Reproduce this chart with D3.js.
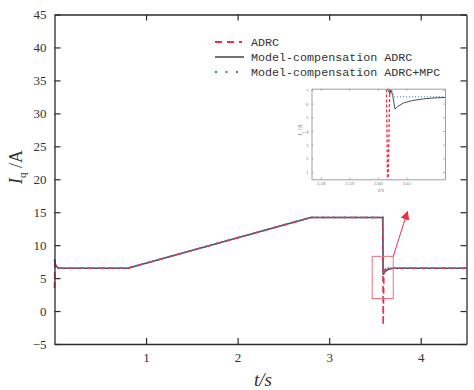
<!DOCTYPE html>
<html>
<head>
<meta charset="utf-8">
<script src="https://cdn.jsdelivr.net/npm/d3@7"></script>
<style>
  body { margin: 0; background: #fff; }
  svg { display: block; }
</style>
</head>
<body>
<svg id="chart" width="474" height="390"></svg>
<script>
// 数据
const seriesNames = ['ADRC', 'Model-compensation ADRC', 'Model-compensation ADRC+MPC']
const xTicks = [1, 2, 3, 4]
const yTicks = [-5, 0, 5, 10, 15, 20, 25, 30, 35, 40, 45]

// 主图 (t, Iq)
const adrcT = [0, 0.004, 0.04, 0.8, 2.8, 3.585, 3.59, 3.597, 3.61, 3.63, 4.5]
const adrcV = [3.5, 7.2, 6.5, 6.5, 14.2, 14.2, -2.1, 5.3, 6.3, 6.5, 6.5]
const mcT = [0, 0.01, 0.04, 0.8, 2.8, 3.585, 3.59, 3.6, 3.64, 3.7, 4.5]
const mcV = [7.8, 7.0, 6.5, 6.5, 14.2, 14.2, 5.5, 5.9, 6.3, 6.5, 6.5]
const mpcT = [0, 0.01, 0.04, 0.8, 2.8, 3.585, 3.59, 3.597, 3.62, 4.5]
const mpcV = [7.8, 7.0, 6.5, 6.5, 14.2, 14.2, 5.6, 6.4, 6.5, 6.5]

// 局部放大图
const zoomXTicks = [3.58, 3.59, 3.60, 3.61]
const zoomYTicks = [1, 2, 3, 4, 5, 6, 7]
const zAdrcT = [3.6030, 3.6034, 3.6036, 3.6042]
const zAdrcV = [7.4, 0.2, 0.2, 7.4]
const zMcT = [3.6030, 3.6036, 3.6042, 3.6046, 3.6052, 3.6060, 3.607, 3.609, 3.612, 3.616, 3.62, 3.6235]
const zMcV = [7.3, 7.0, 6.7, 7.0, 6.6, 5.6, 5.8, 6.05, 6.22, 6.35, 6.42, 6.45]
const zMpcT = [3.6030, 3.6036, 3.6044, 3.605, 3.6058, 3.6235]
const zMpcV = [7.3, 7.0, 6.8, 7.0, 6.5, 6.5]

const colors = ['#e8314a', '#4d4d4d', '#2f7fc1']
const dashes = ['6,4', null, '1.5,4']

let svg = d3.select('#chart')

// 主图区域
let pl = 54.5, pr = 466.5, pt = 14.5, pb = 344
let x = d3.scaleLinear().domain([0, 4.5]).range([pl, pr])
let y = d3.scaleLinear().domain([-5, 45]).range([pb, pt])

let serif = '"Liberation Serif", "DejaVu Serif", serif'

// 曲线
let line = d3.line().x(d => x(d[0])).y(d => y(d[1]))
let series = [
  d3.zip(adrcT, adrcV),
  d3.zip(mcT, mcV),
  d3.zip(mpcT, mpcV)
]
;[1, 0, 2].forEach(k => {
  svg.append('path')
     .datum(series[k])
     .attr('d', line)
     .attr('fill', 'none')
     .attr('stroke', colors[k])
     .attr('stroke-width', k === 1 ? 1.6 : k === 0 ? 1.6 : 1.8)
     .attr('stroke-dasharray', dashes[k])
})

// 坐标轴
let axisStyle = function (g) {
  g.selectAll('path').attr('stroke', '#2b2b2b').attr('stroke-width', 1.3)
  g.selectAll('line').attr('stroke', '#2b2b2b').attr('stroke-width', 1.2)
  g.selectAll('text').attr('fill', '#333').style('font-family', serif).style('font-size', '13px')
}
svg.append('g').attr('transform', `translate(0,${pb})`)
   .call(d3.axisBottom(x).tickValues(xTicks).tickSizeInner(-6).tickSizeOuter(0).tickPadding(9).tickFormat(d3.format('d')))
   .call(axisStyle)
svg.append('g').attr('transform', `translate(0,${pt})`)
   .call(d3.axisTop(x).tickValues(xTicks).tickSizeInner(-6).tickSizeOuter(0).tickFormat(''))
   .call(axisStyle)
svg.append('g').attr('transform', `translate(${pl},0)`)
   .call(d3.axisLeft(y).tickValues(yTicks).tickSizeInner(-6).tickSizeOuter(0).tickPadding(8).tickFormat(d => d < 0 ? '\u2212' + (-d) : d))
   .call(axisStyle)
svg.append('g').attr('transform', `translate(${pr},0)`)
   .call(d3.axisRight(y).tickValues(yTicks).tickSizeInner(-6).tickSizeOuter(0).tickFormat(''))
   .call(axisStyle)

// 轴标题
svg.append('text')
   .attr('x', 263).attr('y', 386)
   .attr('text-anchor', 'middle')
   .style('font-family', serif).style('font-size', '19px').style('font-style', 'italic')
   .attr('fill', '#333')
   .text('t/s')

let yl = svg.append('text')
   .attr('transform', 'translate(22,167) rotate(-90)')
   .attr('text-anchor', 'middle')
   .style('font-family', serif).style('font-size', '18px')
   .attr('fill', '#333')
yl.append('tspan').style('font-style', 'italic').text('I')
yl.append('tspan').attr('dy', 4).style('font-size', '11px').text('q')
yl.append('tspan').attr('dy', -4).text(' /A')

// 图例
let legend = svg.append('g').attr('transform', 'translate(215,42)')
seriesNames.forEach((name, i) => {
  let g = legend.append('g').attr('transform', `translate(0,${i * 15})`)
  g.append('line')
   .attr('x1', 0).attr('x2', i === 1 ? 29 : 27).attr('y1', 0).attr('y2', 0)
   .attr('stroke', colors[i])
   .attr('stroke-width', i === 1 ? 1.6 : 2)
   .attr('stroke-dasharray', i === 0 ? '7,5' : i === 2 ? '2,8.5' : null)
  g.append('text')
   .attr('x', 36).attr('y', 4)
   .style('font-family', '"Liberation Mono", "DejaVu Sans Mono", monospace')
   .style('font-size', '11.7px')
   .attr('fill', '#333')
   .text(name)
})

// 放大框和箭头
let boxT = [3.47, 3.7]
let boxV = [1.9, 8.3]
svg.append('rect')
   .attr('x', x(boxT[0])).attr('y', y(boxV[1]))
   .attr('width', x(boxT[1]) - x(boxT[0])).attr('height', y(boxV[0]) - y(boxV[1]))
   .attr('fill', 'none').attr('stroke', '#ee6f7a').attr('stroke-width', 1)

svg.append('defs').append('marker')
   .attr('id', 'arrow').attr('viewBox', '0 0 10 10')
   .attr('refX', 9).attr('refY', 5)
   .attr('markerWidth', 9).attr('markerHeight', 9)
   .attr('markerUnits', 'userSpaceOnUse')
   .attr('orient', 'auto')
   .append('path').attr('d', 'M0,0L10,5L0,10z').attr('fill', '#e8314a')
svg.append('line')
   .attr('x1', x(boxT[1])).attr('y1', y(boxV[1]))
   .attr('x2', x(3.855)).attr('y2', y(15.1))
   .attr('stroke', '#e8314a').attr('stroke-width', 1)
   .attr('marker-end', 'url(#arrow)')

// 局部放大图
let zl = 311.5, zr = 445, zt = 88.7, zb = 179.3
let zx = d3.scaleLinear().domain([3.5768, 3.6235]).range([zl, zr])
let zy = d3.scaleLinear().domain([0.47, 7.09]).range([zb, zt])

svg.append('rect')
   .attr('x', zl).attr('y', zt).attr('width', zr - zl).attr('height', zb - zt)
   .attr('fill', '#fff')

svg.append('clipPath').attr('id', 'zclip')
   .append('rect').attr('x', zl).attr('y', zt).attr('width', zr - zl).attr('height', zb - zt)

let zline = d3.line().x(d => zx(d[0])).y(d => zy(d[1]))
let zSeries = [d3.zip(zAdrcT, zAdrcV), d3.zip(zMcT, zMcV), d3.zip(zMpcT, zMpcV)]
let zg = svg.append('g').attr('clip-path', 'url(#zclip)')
;[1, 0, 2].forEach(k => {
  zg.append('path')
    .datum(zSeries[k])
    .attr('d', zline)
    .attr('fill', 'none')
    .attr('stroke', colors[k])
    .attr('stroke-width', k === 0 ? 1.3 : 1)
    .attr('stroke-dasharray', k === 0 ? '3,2' : k === 2 ? '1,2' : null)
})

let zStyle = function (g) {
  g.selectAll('path').attr('stroke', '#888').attr('stroke-width', 0.8)
  g.selectAll('line').attr('stroke', '#888').attr('stroke-width', 0.6)
  g.selectAll('text').attr('fill', '#777').style('font-family', serif).style('font-size', '5px')
}
svg.append('g').attr('transform', `translate(0,${zb})`)
   .call(d3.axisBottom(zx).tickValues(zoomXTicks).tickSizeInner(-2).tickSizeOuter(0).tickPadding(2).tickFormat(d3.format('.2f')))
   .call(zStyle)
svg.append('g').attr('transform', `translate(0,${zt})`)
   .call(d3.axisTop(zx).tickValues(zoomXTicks).tickSizeInner(-2).tickSizeOuter(0).tickFormat(''))
   .call(zStyle)
svg.append('g').attr('transform', `translate(${zl},0)`)
   .call(d3.axisLeft(zy).tickValues(zoomYTicks).tickSizeInner(-2).tickSizeOuter(0).tickPadding(3).tickFormat(d3.format('d')))
   .call(zStyle)
svg.append('g').attr('transform', `translate(${zr},0)`)
   .call(d3.axisRight(zy).tickValues(zoomYTicks).tickSizeInner(-2).tickSizeOuter(0).tickFormat(''))
   .call(zStyle)

svg.append('text')
   .attr('x', 381).attr('y', 192)
   .attr('text-anchor', 'middle')
   .style('font-family', serif).style('font-size', '6px').style('font-style', 'italic')
   .attr('fill', '#777')
   .text('t/s')
let zyl = svg.append('text')
   .attr('transform', 'translate(302,130) rotate(-90)')
   .attr('text-anchor', 'middle')
   .style('font-family', serif).style('font-size', '6px')
   .attr('fill', '#777')
zyl.append('tspan').style('font-style', 'italic').text('I')
zyl.append('tspan').attr('dy', 1.5).style('font-size', '4px').text('q')
zyl.append('tspan').attr('dy', -1.5).text(' /A')
</script>
</body>
</html>
